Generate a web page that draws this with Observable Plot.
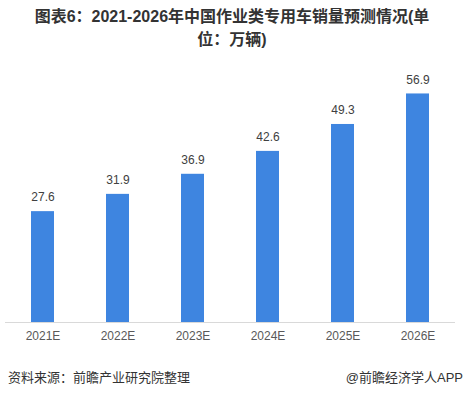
<!DOCTYPE html>
<html>
<head>
<meta charset="utf-8">
<script src="https://cdn.jsdelivr.net/npm/d3@7"></script>
<script src="https://cdn.jsdelivr.net/npm/@observablehq/plot@0.6"></script>
<style>
  html, body { margin: 0; padding: 0; background: #fff; }
  body { width: 464px; height: 396px; overflow: hidden; position: relative;
         font-family: "Liberation Sans", "Noto Sans CJK SC", sans-serif; }
  #title { position: absolute; left: 0; top: 5px; width: 464px; text-align: center;
           font-size: 16px; font-weight: bold; line-height: 23px; color: #333;
           font-family: "Liberation Sans", "Noto Sans CJK SC", sans-serif; }
  #chart { position: absolute; left: 0; top: 60px; }
  #src { position: absolute; left: 8px; top: 367px; font-size: 13px; color: #333; }
  #app { position: absolute; right: 1px; top: 367px; font-size: 13px; color: #333; }
</style>
</head>
<body>
<div id="title">图表6：2021-2026年中国作业类专用车销量预测情况(单<br>位：万辆)</div>
<div id="chart"></div>
<div id="src">资料来源：前瞻产业研究院整理</div>
<div id="app">@前瞻经济学人APP</div>
<script>
const years = ["2021E", "2022E", "2023E", "2024E", "2025E", "2026E"];
const sales = [27.6, 31.9, 36.9, 42.6, 49.3, 56.9];

const data = years.map((y, i) => ({year: y, value: sales[i]}));

const chart = Plot.plot({
  width: 464,
  height: 295,
  marginLeft: 5,
  marginRight: 9,
  marginTop: 21,
  marginBottom: 33,
  style: {fontFamily: "Liberation Sans, Noto Sans CJK SC, sans-serif", background: "transparent"},
  x: {domain: years, paddingInner: 0.69, paddingOuter: 0.345, label: null, tickSize: 0, tickPadding: 9},
  y: {domain: [0, 60], axis: null},
  marks: [
    Plot.barY(data, {x: "year", y: "value", fill: "#3E85E0"}),
    Plot.ruleY([0], {stroke: "#d9d9d9", strokeWidth: 1}),
    Plot.text(data, {x: "year", y: "value", text: d => d.value.toFixed(1), dy: -14, fontSize: 12, fill: "#404040"}),
    Plot.axisX({tickSize: 0, tickPadding: 9, fontSize: 12, color: "#595959", label: null})
  ]
});
chart.querySelectorAll("[aria-label='x-axis tick label'] text, g[aria-label='x-axis tick label']").forEach(n => n.setAttribute("fill", "#595959"));
document.getElementById("chart").appendChild(chart);
</script>
</body>
</html>
